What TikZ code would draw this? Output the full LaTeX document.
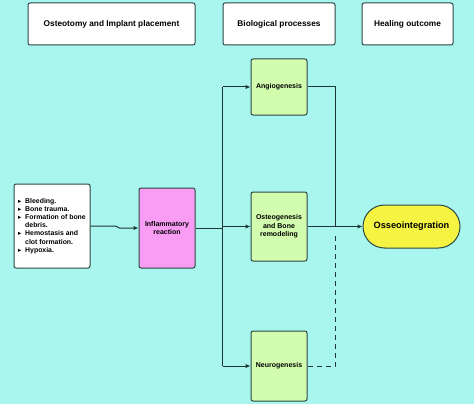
\documentclass[tikz,border=0pt]{standalone}
\usepackage{fontspec}
\setmainfont{Liberation Sans}
\newfontfamily\dejavu{DejaVu Sans}
\usetikzlibrary{arrows.meta}
\definecolor{bgc}{HTML}{A9F6EE}
\definecolor{pinkc}{HTML}{F99CF4}
\definecolor{greenc}{HTML}{D2FCAE}
\definecolor{yellowc}{HTML}{F6F443}
\definecolor{edgec}{HTML}{2C4744}
\definecolor{linec}{HTML}{1E3634}
\newcommand{\tri}{{\dejavu\fontsize{6.5}{7}\selectfont ▸}}
\tikzset{
  box/.style={draw=edgec, line width=1pt, rounded corners=2pt, align=center, inner sep=1pt, font=\bfseries\fontsize{7}{8.3}\selectfont, text=black},
  hdr/.style={box, fill=white, minimum height=42pt, font=\bfseries\fontsize{8.3}{10}\selectfont},
  proc/.style={box, fill=greenc, minimum width=56pt},
  conn/.style={draw=linec, line width=1pt},
  arr/.style={conn, -{Latex[length=5pt,width=4.5pt]}},
  dsh/.style={conn, dash pattern=on 5pt off 4pt}
}
\begin{document}
\begin{tikzpicture}[x=1pt,y=-1pt]
\fill[bgc] (0,0) rectangle (474,404);
\useasboundingbox (0,0) rectangle (474,404);
\node[hdr, minimum width=167pt] (h1) at (111.5,24) {Osteotomy and Implant placement};
\node[hdr, minimum width=112pt] (h2) at (279,24) {Biological processes};
\node[hdr, minimum width=91pt] (h3) at (407.5,24) {Healing outcome};
\node[box, fill=white, minimum width=76pt, minimum height=84pt, align=left, anchor=center] (src) at (52,226)
  {\fontsize{6.9}{8.2}\selectfont\begin{tabular}{@{}p{7pt}@{}l@{}}
  \tri & Bleeding.\\
  \tri & Bone trauma.\\
  \tri & Formation of bone\\
       & debris.\\
  \tri & Hemostasis and\\
       & clot formation.\\
  \tri & Hypoxia.
  \end{tabular}};
\node[box, fill=pinkc, minimum width=56pt, minimum height=80pt] (inf) at (167,228) {Inflammatory\\reaction};
\node[proc, minimum height=56pt] (ang) at (279,87) {Angiogenesis};
\node[proc, minimum height=69pt] (ost) at (279,226.5) {Osteogenesis\\and Bone\\remodeling};
\node[proc, minimum height=70pt] (neu) at (279,366) {Neurogenesis};
\node[box, fill=yellowc, minimum width=97pt, minimum height=43pt, rounded corners=21.5pt, font=\bfseries\fontsize{9.2}{10}\selectfont] (oss) at (411.5,226.5) {Osseointegration};
% connectors
\coordinate (ttop) at (222.5,87);
\coordinate (tbot) at (222.5,366);
\coordinate (tmid) at (222.5,226.5);
\coordinate (tin) at (222.5,228);
\coordinate (rtop) at (335,87);
\coordinate (rmid) at (335,226.5);
\coordinate (rbot) at (335,366);
\coordinate (rdash) at (335,232);
\draw[arr] (src.east) -- ++(25,0) -- ++(4,2) -- (inf.west);
\draw[conn] (inf.east) -- (tin);
\draw[conn] (ttop) -- (tbot);
\draw[arr] (ttop) -- (ang.west);
\draw[arr] (tmid) -- (ost.west);
\draw[arr] (tbot) -- (neu.west);
\draw[conn] (ang.east) -- (rtop) -- (rmid);
\draw[arr] (ost.east) -- (oss.west);
\draw[dsh] (neu.east) -- (rbot) -- (rdash);
\end{tikzpicture}
\end{document}
